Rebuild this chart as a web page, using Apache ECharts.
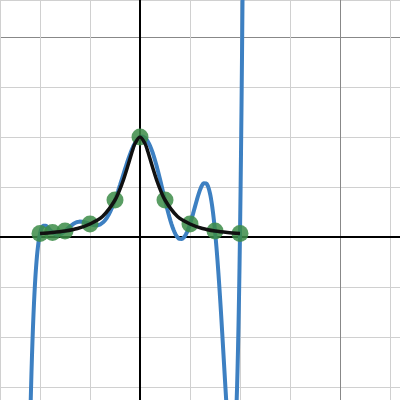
<!DOCTYPE html>
<html>
<head>
  <meta charset="UTF-8">
  <title></title>
  <script type="text/javascript" src="https://cdn.jsdelivr.net/npm/echarts@6/dist/echarts.min.js"></script>
  <style type="text/css">
    *{margin:0;padding:0;}
    #main{width:400px;height:400px;background:#fff;}
  </style>
</head>
<body>
  <div id="main"></div>
  <script type="text/javascript">
    // sample points (green dots)
    var ptX = [-2, -1.75, -1.5, -1, -0.5, 0, 0.5, 1, 1.5, 2];
    var ptY = [0.07, 0.09, 0.12, 0.26, 0.74, 2, 0.74, 0.26, 0.12, 0.07];
    // black curve
    var curveX = [-2, -1.75, -1.5, -1.25, -1, -0.75, -0.5, -0.35, -0.25, -0.15, -0.1, 0, 0.1, 0.15, 0.25, 0.35, 0.5, 0.75, 1, 1.25, 1.5, 1.75, 2];
    var curveY = [0.07, 0.09, 0.12, 0.17, 0.26, 0.41, 0.74, 1.09, 1.40, 1.73, 1.87, 2, 1.87, 1.73, 1.40, 1.09, 0.74, 0.41, 0.26, 0.17, 0.12, 0.09, 0.07];

    // interpolating polynomial through the sample points (blue)
    function lagrange(x){
      var s = 0;
      for (var i = 0; i < ptX.length; i++) {
        var t = ptY[i];
        for (var j = 0; j < ptX.length; j++) if (j != i) t *= (x - ptX[j]) / (ptX[i] - ptX[j]);
        s += t;
      }
      return s;
    }
    var blue = [];
    for (var k = -230; k <= 210; k++) { var x = k / 100; blue.push([x, lagrange(x)]); }

    var minor = '#d0d0d0', major = '#888';
    var myChart = echarts.init(document.getElementById('main'));
    myChart.setOption({
      animation: false,
      grid: {left: 0, right: 0, top: 0, bottom: 0},
      xAxis: {type: 'value', min: -2.8, max: 5.2, splitNumber: 8,
        axisLabel: {show: false}, axisTick: {show: false},
        axisLine: {onZero: true, lineStyle: {color: '#000', width: 2}},
        splitLine: {lineStyle: {color: [minor, minor, minor, minor, minor, minor, minor, major, minor], width: 1}}},
      yAxis: {type: 'value', min: -3.26, max: 4.74, splitNumber: 8,
        axisLabel: {show: false}, axisTick: {show: false},
        axisLine: {onZero: true, lineStyle: {color: '#000', width: 2}},
        splitLine: {lineStyle: {color: [minor, minor, minor, minor, minor, minor, minor, minor, major], width: 1}}},
      series: [
        {type: 'line', data: blue, showSymbol: false, lineStyle: {color: '#3d80c2', width: 4}, z: 2},
        {type: 'scatter', data: ptX.map(function(v, i){ return [v, ptY[i]]; }), symbolSize: 17,
          itemStyle: {color: '#3c8c48', opacity: 0.85}, z: 3},
        {type: 'line', data: curveX.map(function(v, i){ return [v, curveY[i]]; }), smooth: 0.3, showSymbol: false,
          lineStyle: {color: '#111', width: 3.5}, z: 4}
      ]
    });
  </script>
</body>
</html>
